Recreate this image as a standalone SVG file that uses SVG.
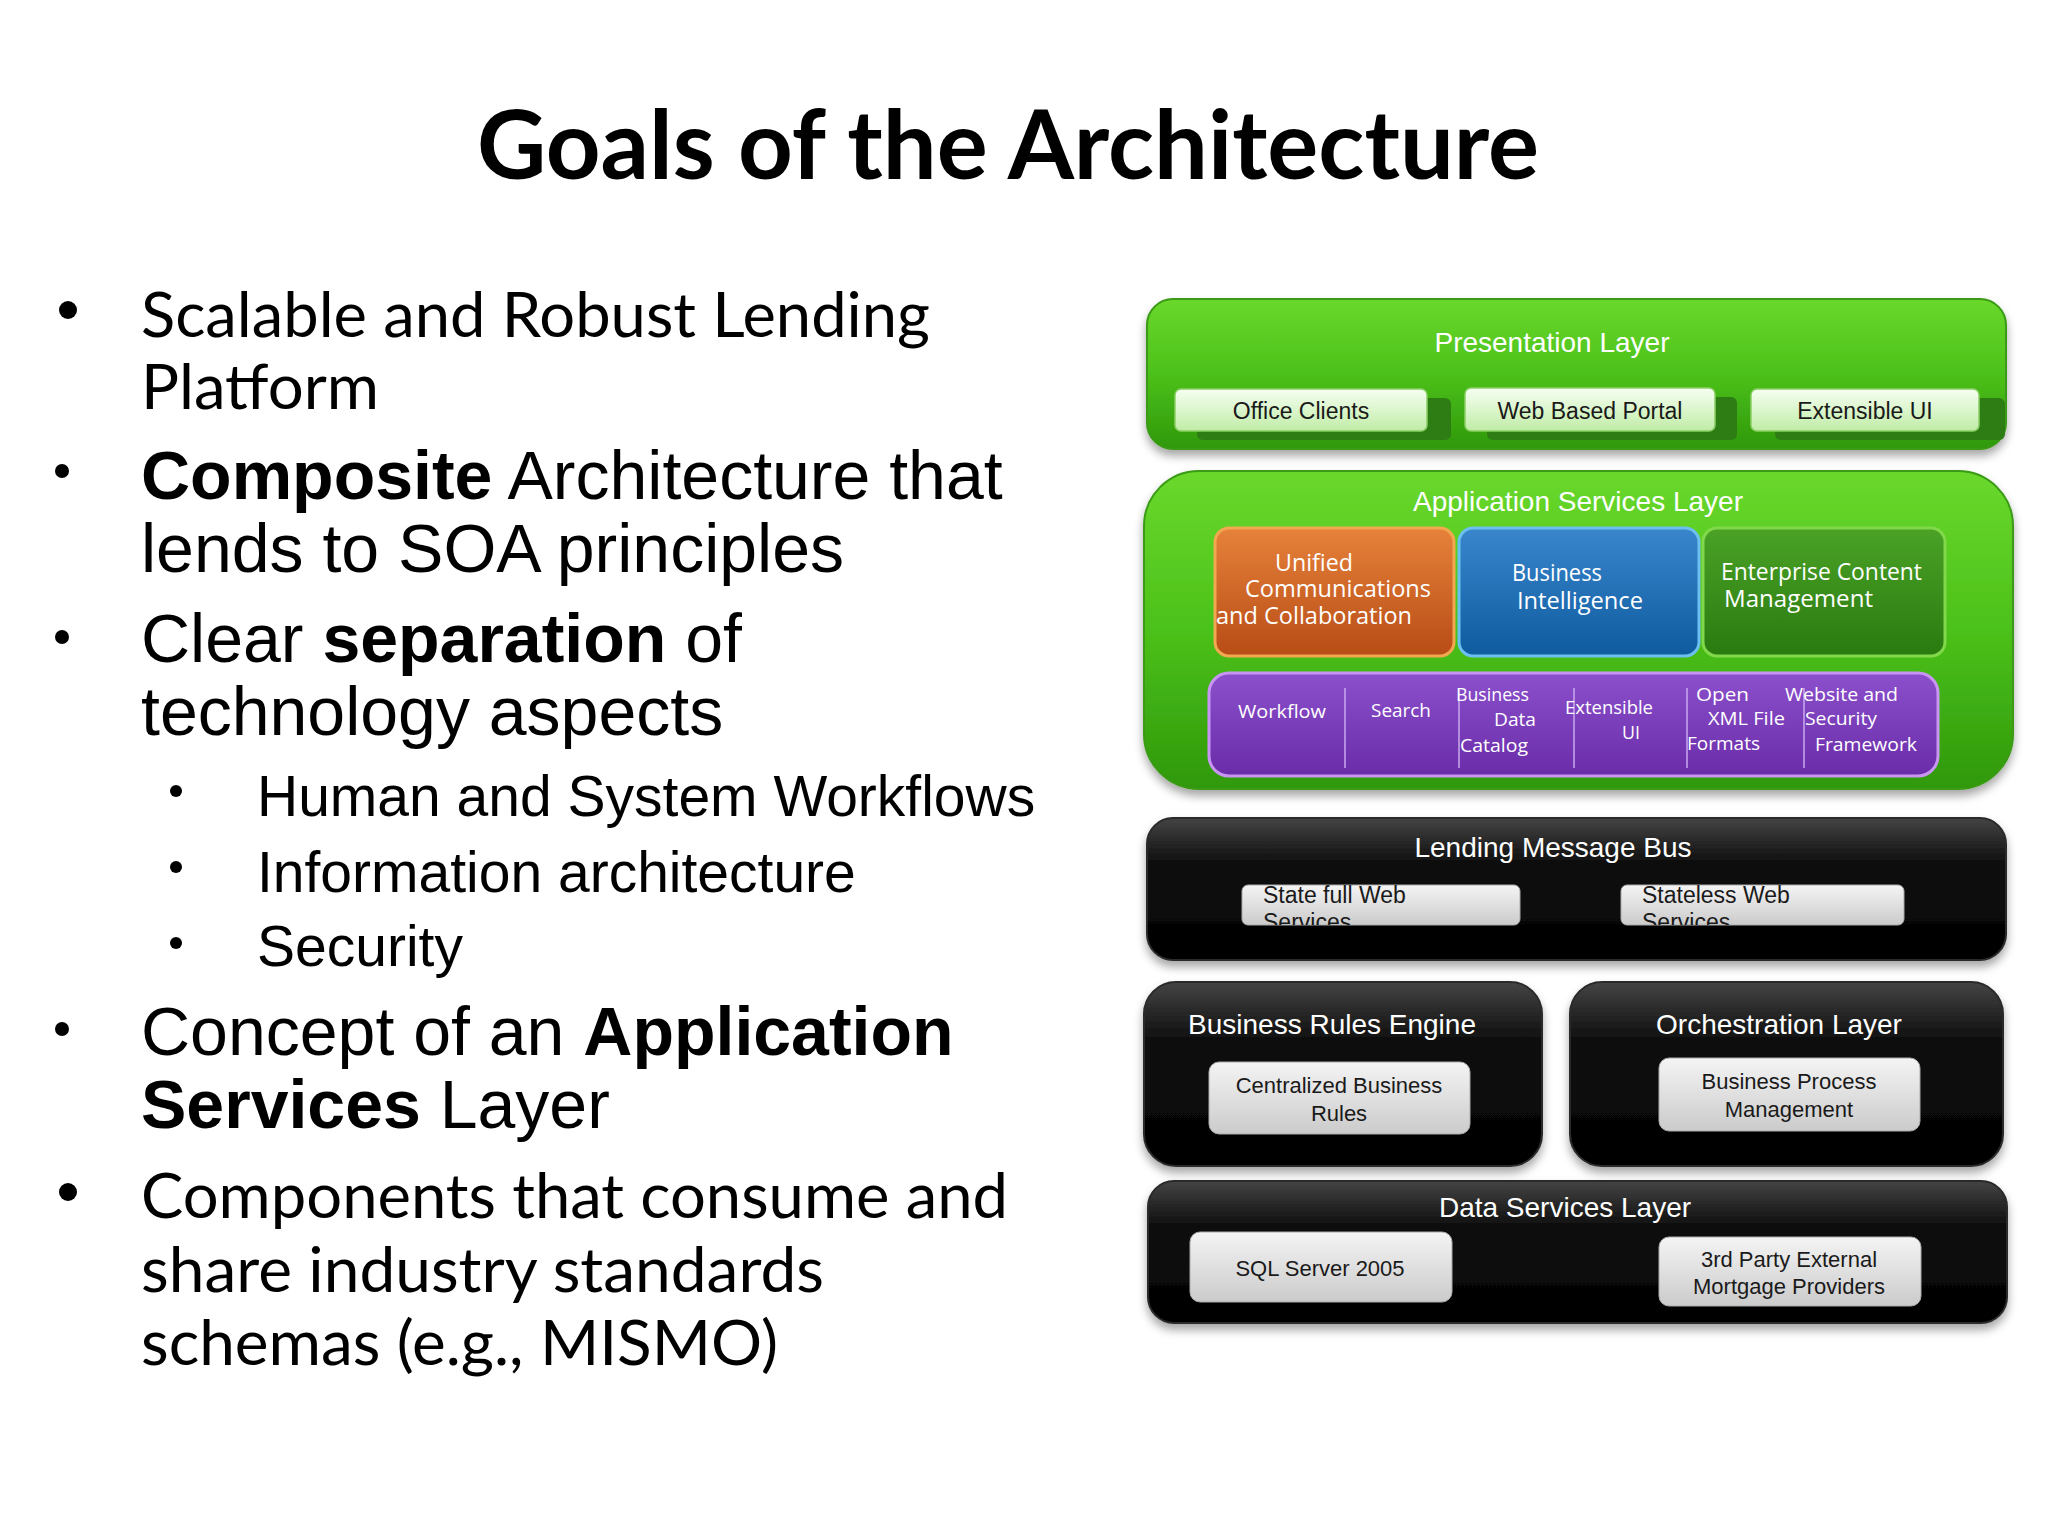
<svg xmlns="http://www.w3.org/2000/svg" width="2048" height="1536" viewBox="0 0 2048 1536">
<defs>
  <linearGradient id="gGreen" x1="0" y1="0" x2="0" y2="1">
    <stop offset="0" stop-color="#6ad82c"/>
    <stop offset="0.5" stop-color="#4cc11a"/>
    <stop offset="1" stop-color="#2f980b"/>
  </linearGradient>
  <linearGradient id="gBlack" x1="0" y1="0" x2="0" y2="1">
    <stop offset="0" stop-color="#444"/>
    <stop offset="0.3" stop-color="#111"/>
    <stop offset="1" stop-color="#000"/>
  </linearGradient>
  <linearGradient id="gLight" x1="0" y1="0" x2="0" y2="1">
    <stop offset="0" stop-color="#f6fff2"/>
    <stop offset="1" stop-color="#c0eca6"/>
  </linearGradient>
  <linearGradient id="gGrey" x1="0" y1="0" x2="0" y2="1">
    <stop offset="0" stop-color="#f4f4f4"/>
    <stop offset="1" stop-color="#cbcbcb"/>
  </linearGradient>
  <linearGradient id="gOrange" x1="0" y1="0" x2="0" y2="1">
    <stop offset="0" stop-color="#e6823a"/>
    <stop offset="1" stop-color="#b84c16"/>
  </linearGradient>
  <linearGradient id="gBlue" x1="0" y1="0" x2="0" y2="1">
    <stop offset="0" stop-color="#3a86cc"/>
    <stop offset="1" stop-color="#0f5ba0"/>
  </linearGradient>
  <linearGradient id="gDkGreen" x1="0" y1="0" x2="0" y2="1">
    <stop offset="0" stop-color="#4aa226"/>
    <stop offset="1" stop-color="#2a7a10"/>
  </linearGradient>
  <linearGradient id="gPurple" x1="0" y1="0" x2="0" y2="1">
    <stop offset="0" stop-color="#8c50cc"/>
    <stop offset="1" stop-color="#6a2ca8"/>
  </linearGradient>
  <filter id="shadow" x="-5%" y="-10%" width="110%" height="130%">
    <feDropShadow dx="0" dy="6" stdDeviation="5" flood-color="#000" flood-opacity="0.35"/>
  </filter>
  <clipPath id="clipSF"><rect x="1242" y="885" width="278" height="40" rx="6"/></clipPath>
  <clipPath id="clipSL"><rect x="1621" y="885" width="283" height="40" rx="6"/></clipPath>
  <style>
    .title { font-family: Lato, "Open Sans", sans-serif; font-weight: bold; font-size: 96px; fill: #000; }
    .cal { font-family: Lato, "Open Sans", sans-serif; font-size: 62px; fill: #000; }
    .ari { font-family: "Liberation Sans", Arial, sans-serif; font-size: 68px; fill: #000; }
    .sub { font-family: "Liberation Sans", Arial, sans-serif; font-size: 57px; fill: #000; }
    .b { font-weight: bold; }
    .lt { font-family: "Liberation Sans", Arial, sans-serif; font-size: 28px; fill: #fff; text-anchor: middle; }
    .it { font-family: "Liberation Sans", Arial, sans-serif; font-size: 22px; fill: #1a1a1a; text-anchor: middle; }
    .itl { font-family: "Liberation Sans", Arial, sans-serif; font-size: 23px; fill: #1a1a1a; }
    .seg { font-family: "Open Sans", "Noto Sans", sans-serif; font-size: 23px; fill: #fff; }
    .segs { font-family: "Open Sans", "Noto Sans", sans-serif; font-size: 19px; fill: #fff; }
    .dot { fill: #000; }
    .green { fill: url(#gGreen); stroke: #3a9a14; stroke-width: 2; }
    .black { fill: url(#gBlack); stroke: #2a2a2a; stroke-width: 2; }
    .light { fill: url(#gLight); stroke: #8ccf66; stroke-width: 1.5; }
    .lshadow { fill: #2d7c14; }
    .grey { fill: url(#gGrey); stroke: #aaa; stroke-width: 1; }
    .div { stroke: #c9a8ee; stroke-width: 1.5; }
  </style>
</defs>
<rect width="2048" height="1536" fill="#fff"/>

<g id="title">
  <text class="title" x="477" y="179" textLength="1062" lengthAdjust="spacingAndGlyphs">Goals of the Architecture</text>
</g>

<g id="bullets">
  <circle class="dot" cx="68" cy="310" r="9"/>
  <text class="cal" x="141" y="337" textLength="789" lengthAdjust="spacingAndGlyphs">Scalable and Robust Lending</text>
  <text class="cal" x="141" y="409" textLength="238" lengthAdjust="spacingAndGlyphs">Platform</text>

  <circle class="dot" cx="62" cy="471" r="7"/>
  <text class="ari" x="141" y="499"><tspan class="b">Composite</tspan> Architecture that</text>
  <text class="ari" x="141" y="572">lends to SOA principles</text>

  <circle class="dot" cx="62" cy="637" r="7"/>
  <text class="ari" x="141" y="662">Clear <tspan class="b">separation</tspan> of</text>
  <text class="ari" x="141" y="735">technology aspects</text>

  <circle class="dot" cx="176" cy="791" r="6"/>
  <text class="sub" x="257" y="816">Human and System Workflows</text>
  <circle class="dot" cx="176" cy="867" r="6"/>
  <text class="sub" x="257" y="892">Information architecture</text>
  <circle class="dot" cx="176" cy="943" r="6"/>
  <text class="sub" x="257" y="966">Security</text>

  <circle class="dot" cx="62" cy="1029" r="7"/>
  <text class="ari" x="141" y="1055">Concept of an <tspan class="b">Application</tspan></text>
  <text class="ari" x="141" y="1128"><tspan class="b">Services</tspan> Layer</text>

  <circle class="dot" cx="68" cy="1192" r="9"/>
  <text class="cal" x="141" y="1218" textLength="867" lengthAdjust="spacingAndGlyphs">Components that consume and</text>
  <text class="cal" x="141" y="1292" textLength="683" lengthAdjust="spacingAndGlyphs">share industry standards</text>
  <text class="cal" x="141" y="1365" textLength="637" lengthAdjust="spacingAndGlyphs">schemas (e.g., MISMO)</text>
</g>

<g id="presentation-layer">
  <rect class="green" x="1147" y="299" width="859" height="150" rx="26" filter="url(#shadow)"/>
  <text class="lt" x="1552" y="352">Presentation Layer</text>
  <rect class="lshadow" x="1197" y="398" width="254" height="42" rx="6"/>
  <rect class="light" x="1175" y="389" width="252" height="42" rx="6"/>
  <text class="itl" x="1301" y="419" text-anchor="middle">Office Clients</text>
  <rect class="lshadow" x="1487" y="397" width="250" height="43" rx="6"/>
  <rect class="light" x="1465" y="388" width="250" height="43" rx="6"/>
  <text class="itl" x="1590" y="419" text-anchor="middle">Web Based Portal</text>
  <rect class="lshadow" x="1775" y="398" width="230" height="42" rx="6"/>
  <rect class="light" x="1751" y="389" width="228" height="42" rx="6"/>
  <text class="itl" x="1865" y="419" text-anchor="middle">Extensible UI</text>
</g>

<g id="application-services-layer">
  <rect class="green" x="1144" y="471" width="869" height="318" rx="55" filter="url(#shadow)"/>
  <text class="lt" x="1578" y="511">Application Services Layer</text>
  <g id="unified-communications">
    <rect x="1215" y="528" width="239" height="128" rx="14" fill="url(#gOrange)" stroke="#f2a850" stroke-width="3"/>
    <text class="seg" x="1275" y="571" textLength="78" lengthAdjust="spacingAndGlyphs">Unified</text>
    <text class="seg" x="1245" y="597" textLength="186" lengthAdjust="spacingAndGlyphs">Communications</text>
    <text class="seg" x="1216" y="624" textLength="196" lengthAdjust="spacingAndGlyphs">and Collaboration</text>
  </g>
  <g id="business-intelligence">
    <rect x="1459" y="528" width="240" height="128" rx="14" fill="url(#gBlue)" stroke="#6cc0f0" stroke-width="3"/>
    <text class="seg" x="1512" y="581" textLength="90" lengthAdjust="spacingAndGlyphs">Business</text>
    <text class="seg" x="1517" y="609" textLength="126" lengthAdjust="spacingAndGlyphs">Intelligence</text>
  </g>
  <g id="enterprise-content-management">
    <rect x="1703" y="528" width="242" height="128" rx="14" fill="url(#gDkGreen)" stroke="#80d84a" stroke-width="3"/>
    <text class="seg" x="1721" y="580" textLength="201" lengthAdjust="spacingAndGlyphs">Enterprise Content</text>
    <text class="seg" x="1724" y="607" textLength="149" lengthAdjust="spacingAndGlyphs">Management</text>
  </g>
  <g id="services-bar">
    <rect x="1209" y="673" width="729" height="103" rx="20" fill="url(#gPurple)" stroke="#c896f2" stroke-width="3"/>
    <line class="div" x1="1345" y1="688" x2="1345" y2="768"/>
    <line class="div" x1="1459" y1="688" x2="1459" y2="768"/>
    <line class="div" x1="1574" y1="688" x2="1574" y2="768"/>
    <line class="div" x1="1687" y1="688" x2="1687" y2="768"/>
    <line class="div" x1="1804" y1="688" x2="1804" y2="768"/>
    <text class="segs" x="1238" y="718" textLength="88" lengthAdjust="spacingAndGlyphs">Workflow</text>
    <text class="segs" x="1371" y="717" textLength="60" lengthAdjust="spacingAndGlyphs">Search</text>
    <text class="segs" x="1456" y="701" textLength="73" lengthAdjust="spacingAndGlyphs">Business</text>
    <text class="segs" x="1494" y="726" textLength="42" lengthAdjust="spacingAndGlyphs">Data</text>
    <text class="segs" x="1460" y="752" textLength="68" lengthAdjust="spacingAndGlyphs">Catalog</text>
    <text class="segs" x="1565" y="714" textLength="88" lengthAdjust="spacingAndGlyphs">Extensible</text>
    <text class="segs" x="1622" y="739" textLength="18" lengthAdjust="spacingAndGlyphs">UI</text>
    <text class="segs" x="1696" y="701" textLength="53" lengthAdjust="spacingAndGlyphs">Open</text>
    <text class="segs" x="1708" y="725" textLength="77" lengthAdjust="spacingAndGlyphs">XML File</text>
    <text class="segs" x="1687" y="750" textLength="73" lengthAdjust="spacingAndGlyphs">Formats</text>
    <text class="segs" x="1785" y="701" textLength="113" lengthAdjust="spacingAndGlyphs">Website and</text>
    <text class="segs" x="1805" y="725" textLength="72" lengthAdjust="spacingAndGlyphs">Security</text>
    <text class="segs" x="1815" y="751" textLength="102" lengthAdjust="spacingAndGlyphs">Framework</text>
  </g>
</g>

<g id="lending-message-bus">
  <rect class="black" x="1147" y="818" width="859" height="142" rx="26" filter="url(#shadow)"/>
  <text class="lt" x="1553" y="857">Lending Message Bus</text>
  <rect class="grey" x="1242" y="885" width="278" height="40" rx="6"/>
  <g clip-path="url(#clipSF)">
    <text class="itl" x="1263" y="903">State full Web</text>
    <text class="itl" x="1263" y="930">Services</text>
  </g>
  <rect class="grey" x="1621" y="885" width="283" height="40" rx="6"/>
  <g clip-path="url(#clipSL)">
    <text class="itl" x="1642" y="903">Stateless Web</text>
    <text class="itl" x="1642" y="930">Services</text>
  </g>
</g>

<g id="business-rules-engine">
  <rect class="black" x="1144" y="982" width="398" height="184" rx="32" filter="url(#shadow)"/>
  <text class="lt" x="1332" y="1034">Business Rules Engine</text>
  <rect class="grey" x="1209" y="1062" width="261" height="72" rx="10"/>
  <text class="it" x="1339" y="1093">Centralized Business</text>
  <text class="it" x="1339" y="1121">Rules</text>
</g>

<g id="orchestration-layer">
  <rect class="black" x="1570" y="982" width="433" height="184" rx="32" filter="url(#shadow)"/>
  <text class="lt" x="1779" y="1034">Orchestration Layer</text>
  <rect class="grey" x="1659" y="1058" width="261" height="73" rx="10"/>
  <text class="it" x="1789" y="1089">Business Process</text>
  <text class="it" x="1789" y="1117">Management</text>
</g>

<g id="data-services-layer">
  <rect class="black" x="1148" y="1181" width="859" height="142" rx="26" filter="url(#shadow)"/>
  <text class="lt" x="1565" y="1217">Data Services Layer</text>
  <rect class="grey" x="1190" y="1232" width="262" height="70" rx="10"/>
  <text class="it" x="1320" y="1276">SQL Server 2005</text>
  <rect class="grey" x="1659" y="1237" width="262" height="69" rx="10"/>
  <text class="it" x="1789" y="1267">3rd Party External</text>
  <text class="it" x="1789" y="1294">Mortgage Providers</text>
</g>

<g id="connectors"></g>
</svg>
